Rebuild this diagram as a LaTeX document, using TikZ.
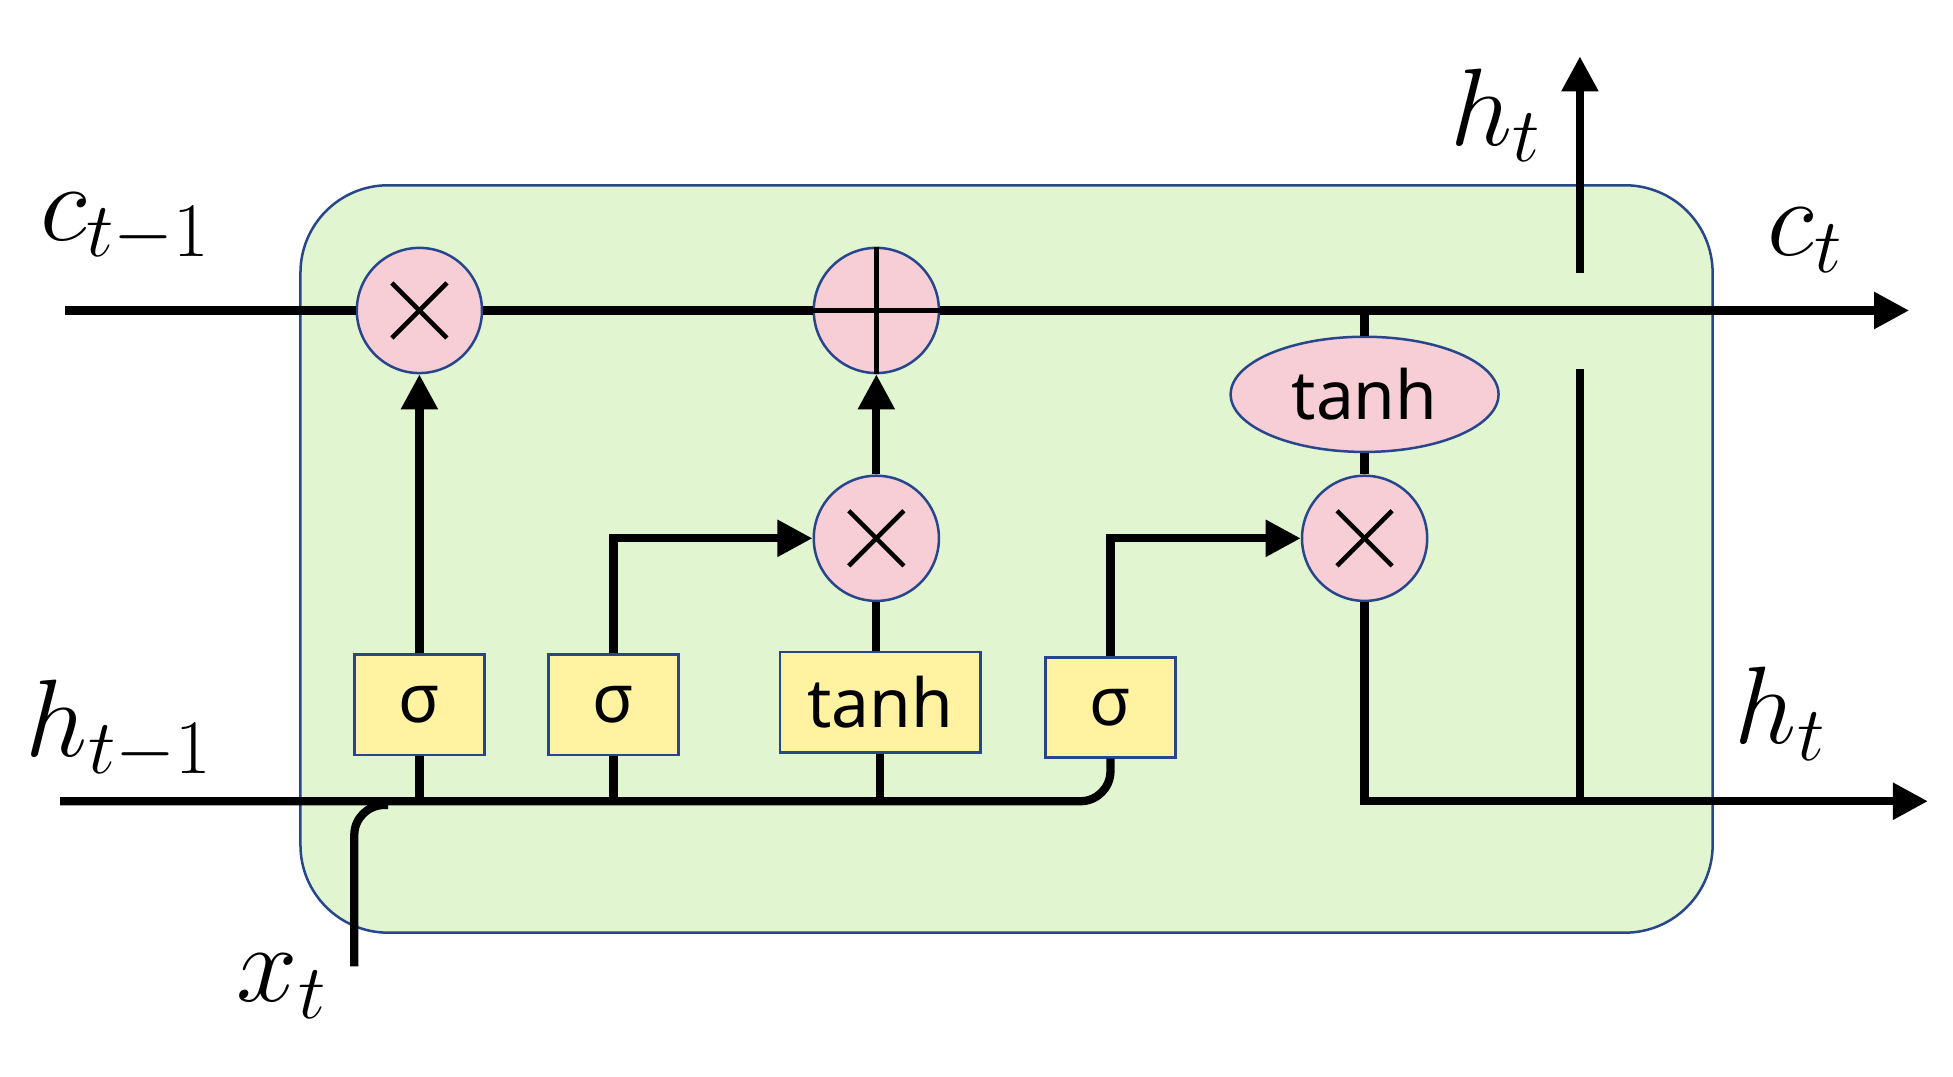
\documentclass[tikz,border=0pt]{standalone}
\usepackage{fix-cm}
\usepackage{fontspec}
\setmainfont{Liberation Serif}
\newfontfamily\boxfont{Noto Sans}
\usetikzlibrary{arrows.meta,shapes.geometric}
\definecolor{cellg}{RGB}{224,245,208}
\definecolor{bordb}{RGB}{40,70,140}
\definecolor{opk}{RGB}{248,206,214}
\definecolor{boxy}{RGB}{255,242,160}
\begin{document}
\begin{tikzpicture}[x=0.5pt,y=-0.5pt,
  wire/.style={line width=3.3pt,black},
  arr/.style={wire,-{Triangle[length=14pt,width=14pt]}},
  op/.style={circle,draw=bordb,line width=1pt,fill=opk,minimum size=50pt,inner sep=0pt},
  gate/.style={draw=bordb,line width=1pt,fill=boxy,inner sep=0pt,font=\boxfont\bfseries\fontsize{27}{27}\selectfont},
  lab/.style={font=\fontsize{44}{44}\selectfont}]
\useasboundingbox (0,0) rectangle (1560,860);
\draw[draw=bordb,line width=1pt,fill=cellg,rounded corners=35pt] (240,148) rectangle (1368,745);
% nodes
\node[op] (m1) at (335,248) {};
\node[op] (pl) at (700,248) {};
\node[op] (m2) at (700,430) {};
\node[op] (m3) at (1090,430) {};
\node[ellipse,draw=bordb,line width=1pt,fill=opk,minimum width=107pt,minimum height=46pt,inner sep=0pt,font=\boxfont\bfseries\fontsize{27}{27}\selectfont] (th) at (1090,315) {tanh};
\node[gate,minimum width=52pt,minimum height=40pt] (s1) at (335,563) {σ};
\node[gate,minimum width=52pt,minimum height=40pt] (s2) at (490,563) {σ};
\node[gate,minimum width=80pt,minimum height=40pt] (tb) at (703,561) {tanh};
\node[gate,minimum width=52pt,minimum height=40pt] (s4) at (887,565) {σ};
% symbols
\foreach \n in {m1,m2,m3}{
  \draw[line width=1.8pt] ([shift={(-22,-22)}]\n.center) -- ([shift={(22,22)}]\n.center);
  \draw[line width=1.8pt] ([shift={(-22,22)}]\n.center) -- ([shift={(22,-22)}]\n.center);}
\draw[line width=1.8pt] (pl.north) -- (pl.south);
\draw[line width=1.8pt] (pl.west) -- (pl.east);
% coordinates
\coordinate (cin) at (52,248);
\coordinate (cout) at (1525,248);
\coordinate (hin) at (48,640);
\coordinate (hout) at (1540,640);
\coordinate (xin) at (283,772);
\coordinate (htop) at (1262,45);
\coordinate (gapb) at (1262,295);
\coordinate (gapt) at (1262,218);
% cell line
\draw[wire] (cin) -- (m1.west);
\draw[wire] (m1.east) -- (pl.west);
\draw[arr] (pl.east) -- (cout);
% input line
\draw[wire,rounded corners=12pt] (hin) -- (887,640) -- (s4.south);
\draw[wire,rounded corners=12pt] (xin) -- (283,643) -- (310,643);
\draw[wire] (s1.south) -- (335,640);
\draw[wire] (s2.south) -- (490,640);
\draw[wire] (tb.south) -- (703,640);
% gates
\draw[arr] (s1.north) -- (m1.south);
\draw[arr] (s2.north) |- (m2.west);
\draw[wire] (tb.north -| m2) -- (m2.south);
\draw[arr] (m2.north) -- (pl.south);
\draw[arr] (s4.north) |- (m3.west);
\draw[wire] (1090,248) -- (th.north);
\draw[wire] (th.south) -- (m3.north);
\draw[arr] (m3.south) |- (hout);
\draw[wire] (1262,640) -- (gapb);
\draw[arr] (gapt) -- (htop);
% labels
\node[lab] (lc0) at (100,182) {$c_{t-1}$};
\node[lab] (lh1) at (1195,92) {$h_t$};
\node[lab] (lc1) at (1442,192) {$c_t$};
\node[lab] (lh0) at (95,583) {$h_{t-1}$};
\node[lab] (lh2) at (1422,570) {$h_t$};
\node[lab] (lx) at (225,788) {$x_t$};
\end{tikzpicture}
\end{document}
